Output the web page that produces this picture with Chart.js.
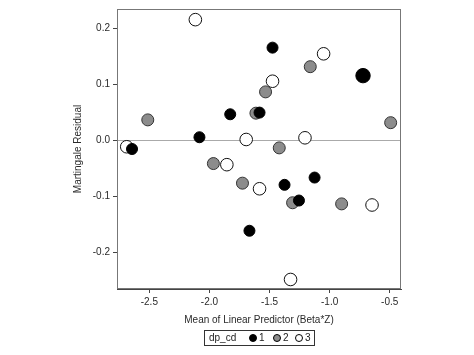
<!DOCTYPE html>
<html>
<head>
<meta charset="utf-8">
<script src="https://cdn.jsdelivr.net/npm/chart.js@4/dist/chart.umd.min.js"></script>
<style>
  html, body { margin: 0; padding: 0; background: #fff; }
  #wrap { position: relative; width: 474px; height: 355px; }
  #legend { position: absolute; left: 204px; top: 330px; width: 109px; height: 14px;
    border: 1px solid #333; font: 10px "Liberation Sans", Arial, sans-serif; color: #222; }
  #legend span { position: absolute; top: 1px; line-height: 12px; white-space: nowrap; }
  #legend .dot { top: 3px; width: 8px; height: 8px; border-radius: 50%; border: 1px solid #000; box-sizing: border-box; }
</style>
</head>
<body>
<div id="wrap">
  <canvas id="c" width="474" height="355"></canvas>
  <div id="legend"></div>
</div>
<script>
// ---- data ----
const legendTitle = "dp_cd";
const seriesNames = ["1", "2", "3"];

const xBlack = [-2.644, -2.083, -1.827, -1.475, -0.722, -1.583, -1.375, -1.125, -1.255, -1.667];
const yBlack = [-0.015,  0.006,  0.047,  0.166,  0.116,  0.050, -0.079, -0.066, -0.107, -0.161];

const xGray = [-2.513, -1.161, -1.533, -1.613, -0.492, -1.419, -1.967, -1.725, -1.308, -0.900];
const yGray = [ 0.037,  0.132,  0.087,  0.049,  0.032, -0.013, -0.041, -0.076, -0.111, -0.113];

const xOpen = [-2.117, -1.050, -1.475, -2.688, -1.694, -1.205, -1.855, -1.583, -0.647, -1.325];
const yOpen = [ 0.216,  0.155,  0.106, -0.011,  0.002,  0.005, -0.043, -0.086, -0.115, -0.248];

const xTicks = [-2.5, -2.0, -1.5, -1.0, -0.5];
const yTicks = [-0.2, -0.1, 0.0, 0.1, 0.2];

const xTitle = "Mean of Linear Predictor (Beta*Z)";
const yTitle = "Martingale Residual";

// ---- styles ----
const blackRadius = [5.5, 5.5, 5.5, 5.5, 7.2, 5.5, 5.5, 5.5, 5.5, 5.5];
const fills = ['#000', '#8c8c8c', '#fff'];
const strokes = ['#000', '#333', '#111'];

function pts(xs, ys) { return xs.map((x, i) => ({ x: x, y: ys[i] })); }

const FONT = "'Liberation Sans', Arial, Helvetica, sans-serif";
const TXT = '#2a2a2a';

const framePlugin = {
  id: 'frame',
  beforeDatasetsDraw(chart) {
    const a = chart.chartArea, ctx = chart.ctx;
    ctx.save();
    ctx.strokeStyle = '#777';
    ctx.lineWidth = 1;
    ctx.strokeRect(a.left + 0.5, a.top + 0.5, a.right - a.left - 1, a.bottom - a.top - 1);
    ctx.restore();
  }
};

new Chart(document.getElementById('c'), {
  type: 'scatter',
  data: {
    datasets: [
      { label: seriesNames[0], data: pts(xBlack, yBlack), backgroundColor: fills[0], borderColor: strokes[0],
        borderWidth: 1, pointRadius: blackRadius, pointHoverRadius: blackRadius },
      { label: seriesNames[1], data: pts(xGray, yGray), backgroundColor: fills[1], borderColor: strokes[1],
        borderWidth: 1, pointRadius: 6, pointHoverRadius: 6 },
      { label: seriesNames[2], data: pts(xOpen, yOpen), backgroundColor: fills[2], borderColor: strokes[2],
        borderWidth: 1, pointRadius: 6.3, pointHoverRadius: 6.3 }
    ]
  },
  options: {
    responsive: false,
    animation: false,
    layout: { padding: { left: 68, right: 73, top: 7, bottom: 25 } },
    plugins: { legend: { display: false }, tooltip: { enabled: false } },
    scales: {
      x: {
        type: 'linear', min: -2.769, max: -0.406,
        afterBuildTicks(s) { s.ticks = xTicks.map(v => ({ value: v })); },
        afterFit(s) { s.height = 41; },
        ticks: { color: TXT, font: { family: FONT, size: 10 }, padding: 3,
          callback: v => v.toFixed(1) },
        grid: { display: true, drawOnChartArea: false, drawTicks: true, tickLength: 4, tickColor: '#444' },
        border: { display: true, color: '#444', width: 1 },
        title: { display: true, text: xTitle, color: TXT, font: { family: FONT, size: 10 }, padding: { top: 4, bottom: 4 } }
      },
      y: {
        type: 'linear', min: -0.265, max: 0.235,
        afterBuildTicks(s) { s.ticks = yTicks.map(v => ({ value: v })); },
        afterFit(s) { s.width = 49; },
        ticks: { color: TXT, font: { family: FONT, size: 10 }, padding: 3,
          callback: v => v.toFixed(1) },
        grid: { display: true, drawTicks: true, tickLength: 4, tickColor: '#444',
          color: ctx => (ctx.tick && Math.abs(ctx.tick.value) < 1e-9) ? '#aaa' : 'rgba(0,0,0,0)' },
        border: { display: true, color: '#444', width: 1 },
        title: { display: true, text: yTitle, color: TXT, font: { family: FONT, size: 10 }, padding: { top: 4, bottom: 4 } }
      }
    }
  },
  plugins: [framePlugin]
});

// HTML legend (real text), positioned inside its box
const lg = document.getElementById('legend');
function addSpan(cls, text, left, bg) {
  const s = document.createElement('span');
  if (cls) s.className = cls;
  if (text) s.textContent = text;
  s.style.left = left + 'px';
  if (bg) s.style.background = bg;
  lg.appendChild(s);
}
addSpan('', legendTitle, 4);
const dotLeft = [44, 68, 90];
seriesNames.forEach((n, i) => {
  addSpan('dot', '', dotLeft[i], fills[i]);
  addSpan('', n, dotLeft[i] + 10);
});
</script>
</body>
</html>
